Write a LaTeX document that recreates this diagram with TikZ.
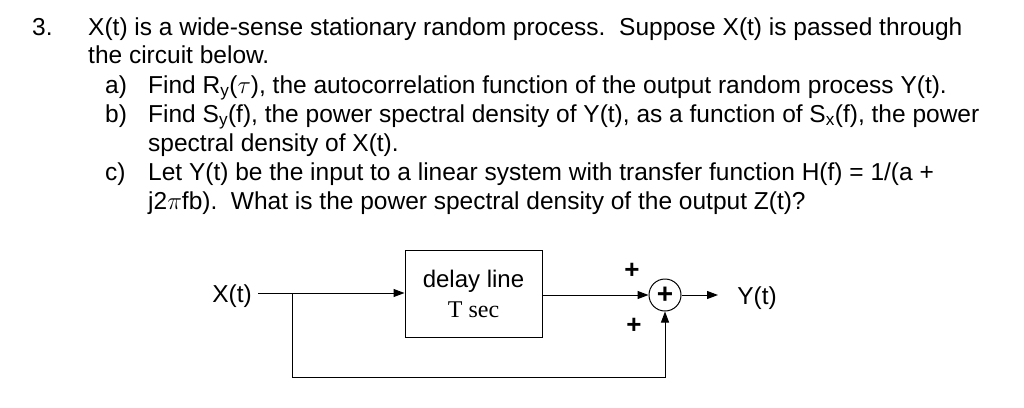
\documentclass[tikz,border=0pt]{standalone}
\usepackage{fontspec}
\setmainfont{Liberation Sans}
\usetikzlibrary{arrows.meta}
\begin{document}
\begin{tikzpicture}[x=1pt,y=-1pt,
  t/.style={anchor=base west,inner sep=0pt,font=\fontsize{24.5}{28}\selectfont},
  w/.style={line width=1pt},
  a/.style={w,-{Triangle[length=11pt,width=8pt]}}]
\useasboundingbox[fill=white] (0,0) rectangle (1024,407);
\node[t] (n3) at (32,35) {3.};
\node[t] (l1) at (88,35) {X(t) is a wide-sense stationary random process.\ \ Suppose X(t) is passed through};
\node[t] (l2) at (88,63) {the circuit below.};
\node[t] (la) at (105,93) {a)};
\node[t] (ta) at (148,93) {Find R\textsubscript{y}($\tau$), the autocorrelation function of the output random process Y(t).};
\node[t] (lb) at (105,122) {b)};
\node[t] (tb) at (148,122) {Find S\textsubscript{y}(f), the power spectral density of Y(t), as a function of S\textsubscript{x}(f), the power};
\node[t] (tb2) at (148,151) {spectral density of X(t).};
\node[t] (lc) at (105,180) {c)};
\node[t] (tc) at (148,180) {Let Y(t) be the input to a linear system with transfer function H(f) = 1/(a +};
\node[t] (tc2) at (148,209) {j2$\pi$fb).\ \ What is the power spectral density of the output Z(t)?};
% diagram
\node[t,anchor=base] (x) at (232,302) {X(t)};
\node[draw,w,minimum width=137pt,minimum height=87pt,inner sep=0pt,align=center,font=\fontsize{24}{30}\selectfont] (d) at (473.5,293.5) {delay line\\\fontspec{Liberation Serif}T sec};
\node[draw,w,circle,minimum size=32pt,inner sep=0pt,font=\fontsize{28}{28}\selectfont\bfseries] (s) at (665,295) {+};
\node[t,anchor=base] (y) at (757,304) {Y(t)};
\node[t,anchor=center,font=\fontsize{26}{28}\selectfont\bfseries] (p1) at (632,271) {+};
\node[t,anchor=center,font=\fontsize{26}{28}\selectfont\bfseries] (p2) at (634,326) {+};
\coordinate (j) at (292,293);
\coordinate (b1) at (292,377);
\coordinate (b2) at (665,377);
\draw[w] (258,293) -- (j);
\draw[a] (j) -- (d.west|-j);
\draw[a] (d.east|-s) -- (s.west);
\draw[a] (s.east) -- (718,295);
\draw[a] (j) -- (b1) -- (b2) -- (s.south);
\end{tikzpicture}
\end{document}
